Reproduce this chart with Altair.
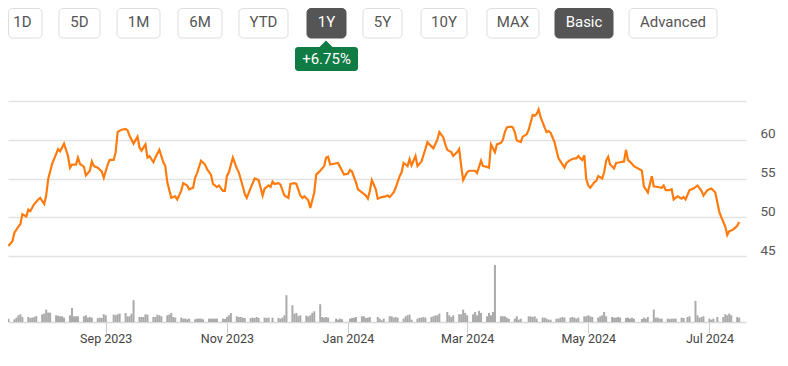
import altair as alt
import pandas as pd

# ---------------- data ----------------
price_dates = [
    "2023-07-14", "2023-07-16", "2023-07-17", "2023-07-19", "2023-07-20", "2023-07-21", "2023-07-23",
    "2023-07-24", "2023-07-25", "2023-07-27", "2023-07-29", "2023-07-30", "2023-07-31", "2023-08-01",
    "2023-08-02", "2023-08-03", "2023-08-05", "2023-08-08", "2023-08-09", "2023-08-11", "2023-08-13",
    "2023-08-14", "2023-08-15", "2023-08-17", "2023-08-18", "2023-08-19", "2023-08-21", "2023-08-22",
    "2023-08-24", "2023-08-25", "2023-08-26", "2023-08-28", "2023-08-30", "2023-08-31", "2023-09-02",
    "2023-09-03", "2023-09-05", "2023-09-06", "2023-09-07", "2023-09-09", "2023-09-11", "2023-09-12",
    "2023-09-13", "2023-09-15", "2023-09-17", "2023-09-18", "2023-09-19", "2023-09-21", "2023-09-22",
    "2023-09-23", "2023-09-25", "2023-09-26", "2023-09-28", "2023-09-30", "2023-10-01", "2023-10-02",
    "2023-10-04", "2023-10-06", "2023-10-07", "2023-10-09", "2023-10-10", "2023-10-12", "2023-10-13",
    "2023-10-15", "2023-10-16", "2023-10-17", "2023-10-19", "2023-10-21", "2023-10-22", "2023-10-24",
    "2023-10-25", "2023-10-27", "2023-10-28", "2023-10-30", "2023-10-31", "2023-11-01", "2023-11-02",
    "2023-11-04", "2023-11-06", "2023-11-07", "2023-11-09", "2023-11-10", "2023-11-11", "2023-11-13",
    "2023-11-15", "2023-11-17", "2023-11-19", "2023-11-20", "2023-11-22", "2023-11-23", "2023-11-24",
    "2023-11-25", "2023-11-27", "2023-11-28", "2023-11-30", "2023-12-02", "2023-12-03", "2023-12-05",
    "2023-12-06", "2023-12-08", "2023-12-09", "2023-12-10", "2023-12-12", "2023-12-13", "2023-12-15",
    "2023-12-16", "2023-12-18", "2023-12-20", "2023-12-21", "2023-12-22", "2023-12-23", "2023-12-25",
    "2023-12-27", "2023-12-28", "2023-12-30", "2024-01-01", "2024-01-02", "2024-01-03", "2024-01-05",
    "2024-01-06", "2024-01-08", "2024-01-10", "2024-01-11", "2024-01-12", "2024-01-13", "2024-01-15",
    "2024-01-16", "2024-01-18", "2024-01-20", "2024-01-21", "2024-01-22", "2024-01-24", "2024-01-25",
    "2024-01-27", "2024-01-28", "2024-01-29", "2024-01-31", "2024-02-01", "2024-02-02", "2024-02-04",
    "2024-02-05", "2024-02-07", "2024-02-09", "2024-02-10", "2024-02-11", "2024-02-13", "2024-02-15",
    "2024-02-16", "2024-02-18", "2024-02-19", "2024-02-20", "2024-02-22", "2024-02-23", "2024-02-25",
    "2024-02-26", "2024-02-27", "2024-02-28", "2024-03-01", "2024-03-02", "2024-03-04", "2024-03-05",
    "2024-03-06", "2024-03-08", "2024-03-09", "2024-03-11", "2024-03-12", "2024-03-13", "2024-03-15",
    "2024-03-16", "2024-03-18", "2024-03-19", "2024-03-20", "2024-03-21", "2024-03-23", "2024-03-24",
    "2024-03-25", "2024-03-26", "2024-03-28", "2024-03-29", "2024-03-31", "2024-04-01", "2024-04-03",
    "2024-04-04", "2024-04-05", "2024-04-06", "2024-04-07", "2024-04-09", "2024-04-10", "2024-04-11",
    "2024-04-12", "2024-04-14", "2024-04-15", "2024-04-16", "2024-04-17", "2024-04-19", "2024-04-20",
    "2024-04-22", "2024-04-24", "2024-04-25", "2024-04-26", "2024-04-27", "2024-04-28", "2024-04-29",
    "2024-04-30", "2024-05-01", "2024-05-02", "2024-05-04", "2024-05-05", "2024-05-06", "2024-05-08",
    "2024-05-09", "2024-05-10", "2024-05-11", "2024-05-12", "2024-05-14", "2024-05-15", "2024-05-17",
    "2024-05-19", "2024-05-20", "2024-05-21", "2024-05-23", "2024-05-24", "2024-05-26", "2024-05-28",
    "2024-05-29", "2024-05-31", "2024-06-02", "2024-06-03", "2024-06-05", "2024-06-07", "2024-06-08",
    "2024-06-09", "2024-06-11", "2024-06-12", "2024-06-13", "2024-06-15", "2024-06-17", "2024-06-18",
    "2024-06-19", "2024-06-21", "2024-06-23", "2024-06-25", "2024-06-27", "2024-06-28", "2024-06-30",
    "2024-07-02", "2024-07-04", "2024-07-05", "2024-07-06", "2024-07-07", "2024-07-09", "2024-07-10",
    "2024-07-11", "2024-07-13", "2024-07-15", "2024-07-16",
]
price_values = [
    46.3, 46.9, 48.0, 48.8, 49.1, 50.4, 50.1,
    51.0, 50.8, 51.7, 52.3, 52.5, 52.1, 51.7,
    52.8, 54.9, 56.9, 58.8, 58.5, 59.5, 57.9,
    56.4, 56.8, 56.8, 57.7, 56.9, 56.5, 55.4,
    56.0, 57.2, 56.6, 56.4, 55.9, 55.1, 56.8,
    57.4, 57.4, 58.4, 61.0, 61.3, 61.4, 61.2,
    60.5, 59.5, 60.4, 59.0, 58.6, 59.4, 57.7,
    57.9, 57.1, 57.7, 58.7, 57.1, 56.6, 54.5,
    52.5, 52.7, 52.3, 53.4, 54.4, 54.1, 53.6,
    53.8, 55.1, 55.7, 57.3, 56.8, 56.2, 55.5,
    54.3, 53.9, 54.1, 53.4, 53.4, 55.3, 55.8,
    57.7, 56.3, 55.8, 54.0, 53.0, 52.5, 53.8,
    55.0, 54.8, 52.8, 53.7, 54.1, 53.9, 54.6,
    54.3, 54.4, 54.2, 52.8, 52.5, 54.3, 54.4,
    54.3, 52.8, 52.5, 52.7, 52.2, 51.2, 53.2,
    55.5, 56.0, 56.6, 57.7, 57.8, 56.8, 56.9,
    57.0, 56.5, 55.5, 55.6, 56.1, 55.9, 54.5,
    53.6, 53.2, 52.8, 52.4, 53.4, 54.8, 53.6,
    52.4, 52.6, 52.7, 52.8, 52.6, 53.2, 53.8,
    55.3, 55.8, 57.0, 56.6, 57.5, 56.7, 57.9,
    56.6, 57.2, 58.8, 59.7, 59.4, 58.9, 60.0,
    61.0, 60.3, 59.4, 58.7, 58.4, 57.9, 58.4,
    58.8, 56.6, 54.8, 55.8, 56.0, 56.0, 56.0,
    55.7, 57.3, 56.6, 56.5, 56.4, 59.4, 58.4,
    59.4, 59.6, 60.0, 61.0, 61.6, 61.7, 61.6,
    61.0, 59.9, 59.7, 60.4, 60.7, 61.3, 63.2,
    63.1, 63.3, 63.9, 62.9, 61.6, 61.0, 61.1,
    60.9, 59.7, 58.6, 57.6, 57.2, 56.4, 57.0,
    57.4, 57.6, 57.6, 57.9, 57.6, 57.4, 58.0,
    54.9, 54.1, 53.8, 54.5, 54.7, 55.3, 55.0,
    55.8, 57.3, 57.8, 56.8, 56.3, 57.0, 57.1,
    57.2, 58.7, 57.4, 56.9, 56.6, 56.3, 56.0,
    54.0, 53.2, 55.3, 54.0, 53.9, 53.8, 54.1,
    53.5, 53.5, 53.6, 52.3, 52.7, 52.4, 52.6,
    52.3, 53.5, 53.7, 54.1, 53.4, 52.8, 53.5,
    53.7, 53.2, 51.9, 50.7, 50.0, 48.8, 47.7,
    48.2, 48.4, 48.9, 49.4,
]

# trading calendar of the volume bars (US market holidays removed)
vol_start, vol_end = "2023-07-14", "2024-07-16"
market_holidays = ["2023-09-04", "2023-11-23", "2023-12-25", "2024-01-01", "2024-01-15",
                   "2024-02-19", "2024-03-29", "2024-05-27", "2024-06-19", "2024-07-04"]

# daily volume, in units of 100k shares, month by month
vol_2023_07 = [10, 8, 13, 20, 23, 15, 15, 12, 13, 15, 18, 23]
vol_2023_08 = [25, 37, 28, 28, 20, 19, 17, 17, 13, 20, 42, 17, 17, 17, 17, 20, 13, 15, 13, 11, 13, 12, 23]
vol_2023_09 = [20, 22, 20, 23, 25, 27, 17, 17, 25, 65, 15, 15, 15, 23, 22, 15, 15, 22, 20, 17]
vol_2023_10 = [20, 22, 27, 15, 13, 13, 10, 10, 8, 10, 8, 10, 10, 10, 8, 10, 10, 10, 10, 10, 10, 9]
vol_2023_11 = [15, 20, 27, 17, 15, 15, 13, 12, 12, 13, 12, 15, 12, 13, 12, 13, 13, 12, 10, 13, 20]
vol_2023_12 = [80, 50, 25, 27, 17, 20, 19, 17, 20, 27, 32, 53, 15, 13, 15, 13, 10, 7, 10, 8]
vol_2024_01 = [10, 12, 13, 15, 17, 17, 12, 13, 15, 15, 10, 5, 10, 17, 17, 13, 15, 13, 10, 17, 20]
vol_2024_02 = [22, 7, 10, 13, 13, 15, 13, 15, 17, 20, 20, 25, 30, 20, 15, 20, 23, 23, 37, 27]
vol_2024_03 = [20, 23, 30, 20, 33, 27, 17, 27, 20, 30, 170, 17, 17, 17, 13, 10, 10, 17, 7, 10]
vol_2024_04 = [17, 17, 15, 17, 10, 13, 13, 10, 7, 7, 10, 10, 13, 15, 13, 13, 15, 13, 10, 13, 17, 17]
vol_2024_05 = [20, 17, 15, 13, 17, 20, 30, 17, 15, 13, 13, 15, 13, 12, 13, 10, 13, 10, 9, 13, 10, 15]
vol_2024_06 = [37, 13, 13, 10, 10, 10, 9, 10, 10, 10, 13, 12, 15, 17, 63, 20, 13, 15, 17]
vol_2024_07 = [10, 7, 10, 15, 15, 23, 20, 25, 20, 15, 13]

tick_months = [(2023, 9), (2023, 11), (2024, 1), (2024, 3), (2024, 5), (2024, 7)]
price_ticks = [45, 50, 55, 60, 65]

button_labels = ["1D", "5D", "1M", "6M", "YTD", "1Y", "5Y", "10Y", "MAX", "Basic", "Advanced"]
active_buttons = ["1Y", "Basic"]
change_label = "+6.75%"

# ---------------- layout (pixels, relative to the plot origin) ----------------
button_left = [0.5, 51, 109, 170, 231, 299, 355, 413, 479, 547, 621]
button_right = [34, 92, 152, 214, 280, 338, 394, 459, 531, 605, 709]
text_x = [14.5, 71.5, 130.5, 192, 255.5, 318.5, 374.5, 436, 505, 576, 665]

W, H = 738, 314

price_df = pd.DataFrame({"date": price_dates, "price": price_values})

vol_days = [d.strftime("%Y-%m-%d") for d in pd.bdate_range(vol_start, vol_end)]
vol_days = [d for d in vol_days if d not in market_holidays]
volumes = (vol_2023_07 + vol_2023_08 + vol_2023_09 + vol_2023_10 + vol_2023_11 + vol_2023_12 +
           vol_2024_01 + vol_2024_02 + vol_2024_03 + vol_2024_04 + vol_2024_05 + vol_2024_06 + vol_2024_07)
assert len(vol_days) == len(volumes), (len(vol_days), len(volumes))
vol_df = pd.DataFrame({"date": vol_days, "volume": volumes})

btn_df = pd.DataFrame({
    "label": button_labels,
    "x0": button_left,
    "x1": button_right,
    "tx": text_x,
    "y0": [0.5] * len(button_labels),
    "y1": [30] * len(button_labels),
    "ty": [14] * len(button_labels),
    "fill": ["#555555" if b in active_buttons else "#ffffff" for b in button_labels],
    "stroke": ["#555555" if b in active_buttons else "#dddddd" for b in button_labels],
    "tcolor": ["#ffffff" if b in active_buttons else "#555555" for b in button_labels],
})

badge_df = pd.DataFrame({"label": [change_label], "x0": [287], "x1": [350], "y0": [39], "y1": [63],
                         "tx": [318.5], "ty": [51], "px": [318], "py": [39.5]})

GREEN = "#0f7b45"

x_scale = alt.Scale(type="utc", domain=[
    alt.DateTime(year=2023, month=7, date=16, hours=7, utc=True),
    alt.DateTime(year=2024, month=7, date=16, hours=22, utc=True),
])
x_axis = alt.Axis(
    values=[alt.DateTime(year=y, month=m, date=1, utc=True) for y, m in tick_months],
    format="%b %Y", grid=False, title=None,
    domainColor="#d8d8d8", domainWidth=1.5,
    tickColor="#cccccc", tickWidth=1, tickSize=11,
    labelPadding=-1, labelFont="Roboto", labelFontSize=12.5, labelColor="#444444",
    labelFlush=False, labelOverlap=False,
)
x_enc = alt.X("date:T", scale=x_scale, axis=x_axis)

y_axis = alt.Axis(
    orient="right", values=price_ticks, title=None,
    labelExpr="datum.value == 65 ? '' : datum.label",
    grid=True, gridColor="#e2e2e2", gridWidth=1.5,
    domain=False, ticks=False, tickSize=0,
    labelPadding=14, labelOffset=-6,
    labelFont="Roboto", labelFontSize=13.5, labelColor="#555555",
)

vol_layer = alt.Chart(vol_df).mark_bar(color="#aaaaaa", size=2, clip=True).encode(
    x=x_enc,
    y=alt.Y("volume:Q", scale=alt.Scale(domain=[0, 170], range=[H, 257]), axis=None),
)

price_layer = alt.Chart(price_df).mark_line(color="#ff7b0d", strokeWidth=2.2, clip=True).encode(
    x=x_enc,
    y=alt.Y("price:Q", scale=alt.Scale(domain=[45, 65], range=[248, 93], zero=False, nice=False),
            axis=y_axis),
)

btn_rect = alt.Chart(btn_df).mark_rect(cornerRadius=4, strokeWidth=1).encode(
    x=alt.X("x0:Q", scale=None, axis=None), x2="x1:Q",
    y=alt.Y("y0:Q", scale=None, axis=None), y2="y1:Q",
    fill=alt.Fill("fill:N", scale=None), stroke=alt.Stroke("stroke:N", scale=None),
)
btn_text = alt.Chart(btn_df).mark_text(font="Roboto", fontSize=15, align="center", baseline="middle").encode(
    x=alt.X("tx:Q", scale=None, axis=None),
    y=alt.Y("ty:Q", scale=None, axis=None),
    text="label:N",
    color=alt.Color("tcolor:N", scale=None),
)

badge_rect = alt.Chart(badge_df).mark_rect(cornerRadius=3, color=GREEN).encode(
    x=alt.X("x0:Q", scale=None, axis=None), x2="x1:Q",
    y=alt.Y("y0:Q", scale=None, axis=None), y2="y1:Q",
)
badge_tip = alt.Chart(badge_df).mark_point(
    shape="M -1 0 L 0 -1 L 1 0 Z", size=196, filled=True, color=GREEN, opacity=1, strokeWidth=0
).encode(
    x=alt.X("px:Q", scale=None, axis=None),
    y=alt.Y("py:Q", scale=None, axis=None),
)
badge_text = alt.Chart(badge_df).mark_text(font="Roboto", fontSize=15, color="#ffffff",
                                           align="center", baseline="middle").encode(
    x=alt.X("tx:Q", scale=None, axis=None),
    y=alt.Y("ty:Q", scale=None, axis=None),
    text="label:N",
)

chart = alt.layer(
    vol_layer, price_layer, btn_rect, btn_text, badge_rect, badge_tip, badge_text
).resolve_scale(y="independent").properties(
    width=W, height=H,
    padding={"left": 0, "top": 0, "right": 34, "bottom": 34},
    autosize=alt.AutoSizeParams(type="none"),
    background="#ffffff",
).configure_view(strokeWidth=0)

chart.save("out.html", embed_options={"renderer": "svg", "actions": False})
